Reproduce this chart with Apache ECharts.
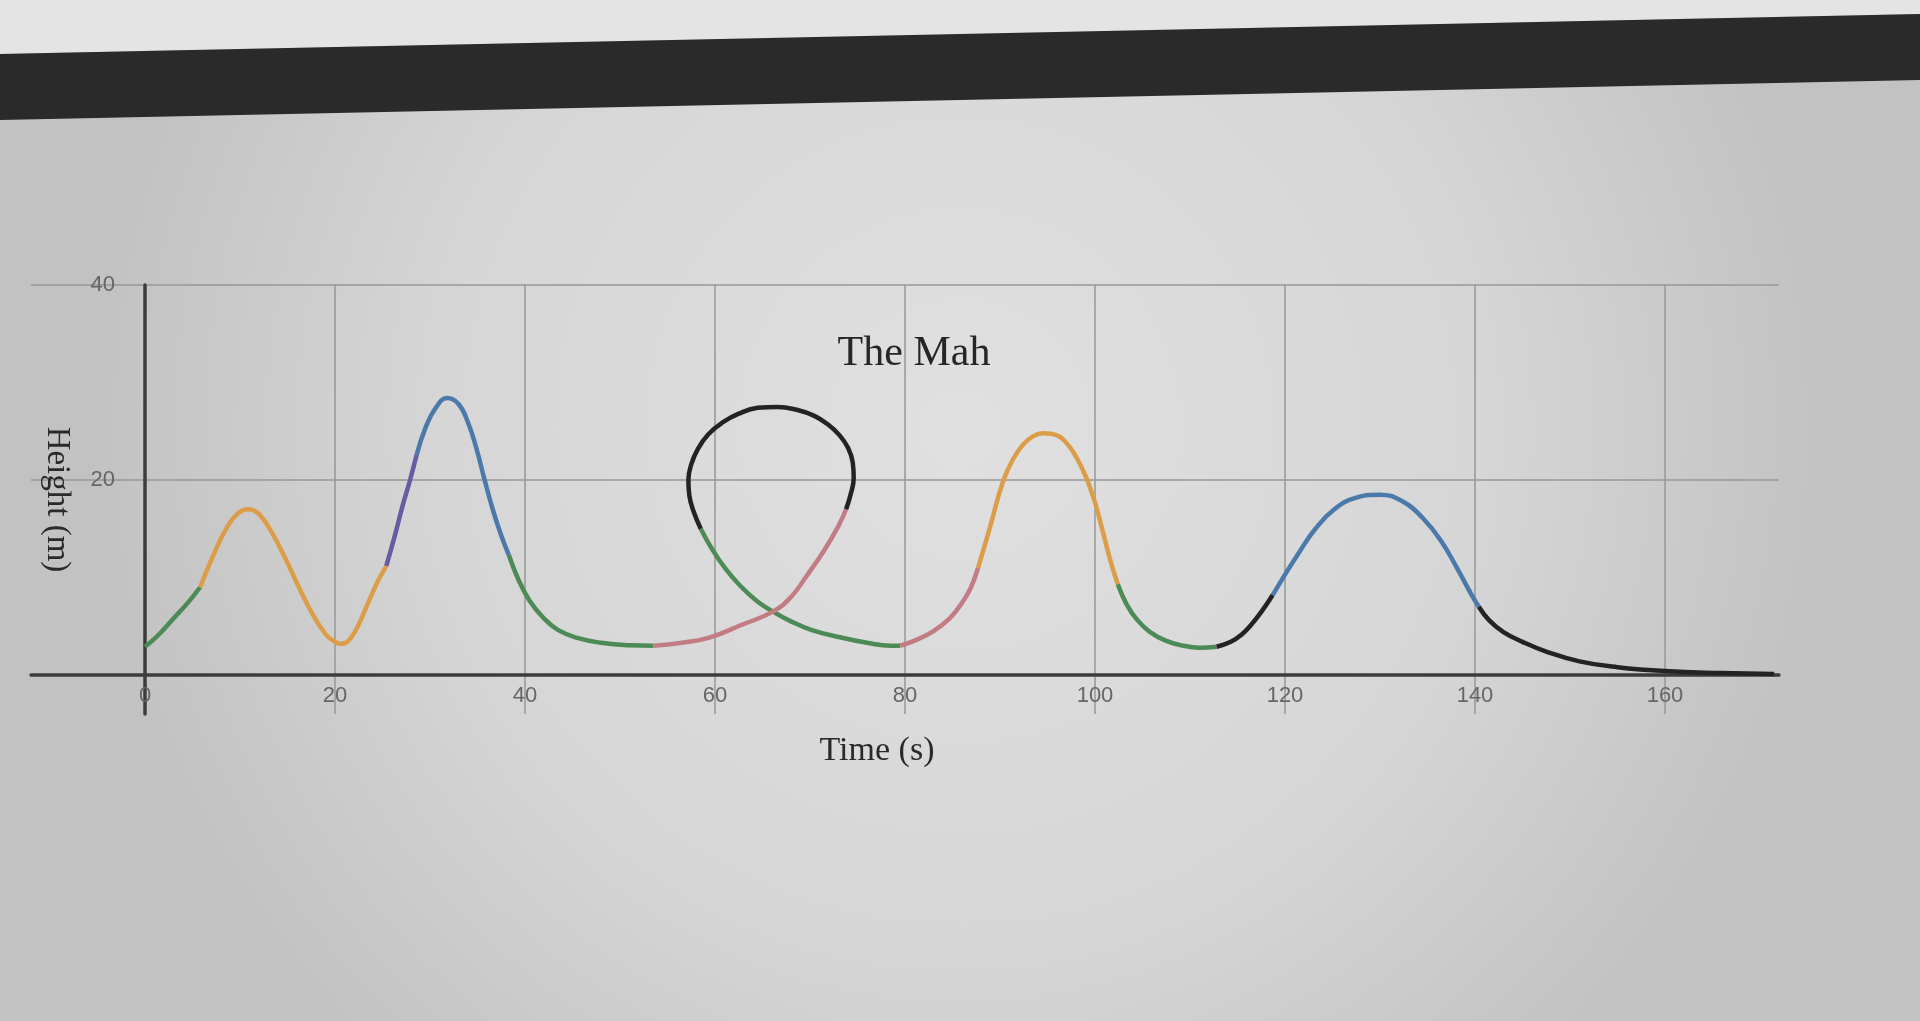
<!DOCTYPE html>
<html>
<head>
<meta charset="utf-8">
<script src="https://cdn.jsdelivr.net/npm/echarts@6/dist/echarts.min.js"></script>
<style>html,body{margin:0;padding:0;width:100%;height:100%;overflow:hidden;}#c{width:1920px;height:1021px;}</style>
</head>
<body>
<div id="c"></div>
<script>
// Segments of the ride profile: [time (s), height (m)]
const greenA = [[0,2.9],[1.3,4.0],[3,5.8],[4.5,7.4],[5.8,9.0]];
const orangeA = [[5.8,9.0],[7.2,12.3],[8.6,15.1],[9.8,16.6],[10.9,17.0],[12,16.5],[13.3,14.7],[14.8,11.9],[16.2,9.0],[17.6,6.3],[19,4.2],[20,3.4],[20.6,3.2],[21.3,3.4],[22.3,4.8],[23.4,7.2],[24.4,9.4],[25.4,11.2]];
const purpleA = [[25.4,11.2],[26.3,14.3],[27.1,17.3],[27.9,20.0],[28.6,22.6]];
const blueA = [[28.6,22.6],[29.5,25.3],[30.6,27.4],[31.8,28.4],[33,27.8],[34.0,25.9],[34.9,23.2],[35.7,20.2],[36.6,17.0],[37.5,14.3],[38.3,12.3]];
const greenB = [[38.3,12.3],[39.3,9.8],[40.5,7.6],[42,5.8],[43.5,4.6],[45.5,3.8],[48,3.3],[51,3.05],[53.5,3.0]];
const pinkA = [[53.5,3.0],[56.5,3.3],[59.3,3.8],[62.7,5.1],[66.1,6.5],[68,8.0],[69.6,10.1],[71.5,12.8],[73.0,15.3],[73.8,17.0]];
const blackLoop = [[73.8,17.0],[74.3,18.6],[74.6,20.2],[74.5,21.8],[74.0,23.3],[73.1,24.6],[71.9,25.7],[70.4,26.6],[68.6,27.2],[66.6,27.5],[64.5,27.4],[62.5,26.8],[60.8,25.9],[59.3,24.7],[58.2,23.2],[57.5,21.6],[57.2,20.0],[57.3,18.4],[57.7,16.9],[58.5,15.0]];
const greenC = [[58.5,15.0],[59.7,12.9],[61.1,10.9],[62.7,9.1],[64.4,7.6],[66.1,6.5],[68,5.5],[70.2,4.6],[73,3.9],[76,3.3],[78.5,3.0],[79.5,3.0]];
const pinkB = [[79.5,3.0],[81.2,3.6],[83,4.5],[84.7,5.8],[86,7.4],[86.9,8.9],[87.7,11.0]];
const orangeB = [[87.7,11.0],[88.9,15.0],[90.3,19.8],[91.3,22.0],[92.4,23.6],[93.5,24.5],[94.5,24.8],[95.6,24.7],[96.8,24.0],[98,22.4],[99.1,20.2],[100,17.7],[100.8,14.8],[101.6,11.8],[102.4,9.3]];
const greenD = [[102.4,9.3],[103.3,7.3],[104.4,5.7],[105.8,4.4],[107.5,3.5],[109.3,3.0],[111,2.8],[112.8,2.9]];
const blackB = [[112.8,2.9],[114.3,3.4],[115.5,4.2],[116.4,5.1],[117.6,6.6],[118.7,8.2]];
const blueB = [[118.7,8.2],[120,10.3],[121.5,12.6],[123.2,15.0],[125.2,17.0],[127.5,18.2],[130,18.5],[132.4,17.8],[134.5,16.1],[136.4,13.8],[138.2,10.8],[139.6,8.3],[140.4,7.0]];
const blackTail = [[140.4,7.0],[141.5,5.6],[143,4.4],[145,3.4],[147.5,2.4],[151,1.4],[155,0.8],[160,0.4],[166,0.2],[171.5,0.1]];

const titleText = 'The Mah';
const xName = 'Time (s)';
const yName = 'Height (m)';
const xTickStep = 20;
const yTickStep = 20;

const C = {
  green: '#4c8a56',
  orange: '#dc9d48',
  purple: '#6a5aa2',
  blue: '#4a79aa',
  pink: '#c27c84',
  black: '#232323'
};

const segments = [
  [greenA, C.green], [orangeA, C.orange], [purpleA, C.purple], [blueA, C.blue],
  [greenB, C.green], [greenC, C.green], [pinkA, C.pink], [blackLoop, C.black],
  [pinkB, C.pink], [orangeB, C.orange], [greenD, C.green], [blackB, C.black],
  [blueB, C.blue], [blackTail, C.black]
];

const chart = echarts.init(document.getElementById('c'));
const G = '#979797', T = 'rgba(0,0,0,0)';
chart.setOption({
  animation: false,
  backgroundColor: {
    type: 'radial', x: 0.5, y: 0.42, r: 0.85,
    colorStops: [{offset: 0, color: '#e0e0e0'}, {offset: 0.6, color: '#d6d6d6'}, {offset: 1, color: '#c2c2c2'}]
  },
  graphic: [
    {type: 'polygon', silent: true, z: -10, shape: {points: [[0,0],[1920,0],[1920,14],[0,54]]}, style: {fill: '#e4e4e4'}},
    {type: 'polygon', silent: true, z: -10, shape: {points: [[0,54],[1920,14],[1920,80],[0,120]]}, style: {fill: '#2a2a2a'}}
  ],
  title: {
    text: titleText, left: 909, top: 328, textAlign: 'center',
    textStyle: {fontFamily: 'Liberation Serif', fontWeight: 'normal', fontSize: 42, color: '#262626'}
  },
  grid: {left: 31, right: 141, top: 285, bottom: 307, containLabel: false, outerBoundsMode: 'none'},
  xAxis: {
    type: 'value', min: -12, max: 172, interval: 4,
    name: xName, nameLocation: 'middle', nameGap: 20,
    nameTextStyle: {fontFamily: 'Liberation Serif', fontSize: 34, color: '#2a2a2a', padding: [0, 56, 0, 0]},
    axisLine: {onZero: true, lineStyle: {color: '#3c3c3c', width: 3.5}},
    axisTick: {show: false},
    axisLabel: {
      margin: -29, fontSize: 22, color: '#666666', fontFamily: 'Liberation Sans',
      formatter: v => (v % xTickStep === 0 && v >= 0) ? String(v) : ''
    },
    splitLine: {show: true, lineStyle: {color: [T, T, T, G, T], width: 1.5}}
  },
  yAxis: {
    type: 'value', min: -4, max: 40, interval: 4,
    name: yName, nameLocation: 'middle', nameGap: -42, nameRotate: -90,
    nameTextStyle: {fontFamily: 'Liberation Serif', fontSize: 33, color: '#2a2a2a'},
    axisLine: {onZero: true, lineStyle: {color: '#3c3c3c', width: 3.5}},
    axisTick: {show: false},
    axisLabel: {
      margin: -84, fontSize: 22, color: '#666666', fontFamily: 'Liberation Sans',
      formatter: v => (v % yTickStep === 0 && v > 0) ? String(v) : ''
    },
    splitLine: {show: true, lineStyle: {color: [T, G, T, T, T], width: 1.5}}
  },
  series: segments.map(([d, col]) => ({
    type: 'line', data: d, smooth: 0.45, showSymbol: false, symbol: 'none',
    lineStyle: {color: col, width: 4.5}, itemStyle: {color: col}, z: 3
  }))
});
</script>
</body>
</html>
